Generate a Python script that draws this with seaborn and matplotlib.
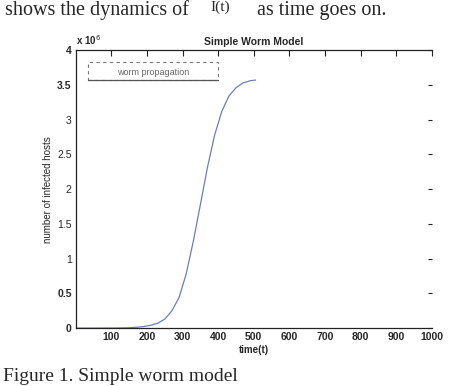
import numpy as np
import pandas as pd
import matplotlib
matplotlib.use("Agg")
import matplotlib.pyplot as plt
from matplotlib.patches import Rectangle
import seaborn as sns

# data (infected hosts, in millions)
time_t = [0, 50, 100, 130, 150, 170, 190, 210, 230, 250, 270, 290, 310,
          330, 350, 370, 390, 410, 430, 450, 470, 490, 505]
infected = [0, 0, 0.001, 0.003, 0.005, 0.012, 0.022, 0.04, 0.07, 0.13, 0.25,
            0.44, 0.78, 1.25, 1.78, 2.32, 2.78, 3.12, 3.34, 3.46, 3.53, 3.56, 3.57]
x_ticks = [100, 200, 300, 400, 500, 600, 700, 800, 900, 1000]
y_ticks = [0, 0.5, 1, 1.5, 2, 2.5, 3, 3.5, 4]
y_labels = ["0", "0.5", "1", "1.5", "2", "2.5", "3", "3.5", "4"]

df = pd.DataFrame({"t": time_t, "I": infected})

sns.set_style("white")
plt.rcParams["font.family"] = ["Liberation Sans", "DejaVu Sans"]

fig = plt.figure(figsize=(4.74, 3.86), dpi=100)
ax = fig.add_axes([0.160, 0.150, 0.751, 0.720])

sns.lineplot(data=df, x="t", y="I", ax=ax, color="#6a7fb4", linewidth=0.9)

ax.set_xlim(0, 1000)
ax.set_ylim(0, 4)
ax.set_xticks(x_ticks)
ax.set_xticklabels([str(v) for v in x_ticks], fontsize=7.5, fontweight="bold")
ax.set_yticks(y_ticks)
ax.set_yticklabels(y_labels, fontsize=7.5)
for lab in ax.get_yticklabels():
    if lab.get_text() in ("0", "0.5", "3.5", "4"):
        lab.set_fontweight("bold")
ax.tick_params(direction="in", length=4, width=0.8, color="#222222",
               top=True, right=True, pad=3)
ax.tick_params(axis="y", which="both", right=True, length=3)
for side in ["left", "bottom", "top"]:
    ax.spines[side].set_color("#222222")
    ax.spines[side].set_linewidth(0.9)
ax.spines["right"].set_visible(False)

ax.set_xlabel("time(t)", fontsize=7, fontweight="bold", labelpad=2)
ax.set_ylabel("number of infected hosts", fontsize=7, labelpad=3)
ax.set_title("Simple Worm Model", fontsize=7.5, fontweight="bold", pad=4)
ax.text(0.0, 1.012, r"x 10$^6$", transform=ax.transAxes, fontsize=7,
        fontweight="bold", ha="left", va="bottom")

# legend box (faint in the scan)
ax.add_patch(Rectangle((0.034, 0.892), 0.366, 0.065, transform=ax.transAxes,
                       fill=False, edgecolor="#777777", linewidth=0.8,
                       linestyle=(0, (3, 3))))
ax.plot([0.034, 0.40], [0.892, 0.892], transform=ax.transAxes,
        color="#555555", linewidth=0.9)
ax.text(0.217, 0.918, "worm propagation", transform=ax.transAxes,
        fontsize=6.5, color="#666666", ha="center", va="center")

# surrounding page text
fig.text(0.011, 0.961, "shows the dynamics of", family="Liberation Serif",
         fontsize=14.5, ha="left", va="baseline")
fig.text(0.443, 0.999, "I(t)", family="Liberation Serif",
         fontsize=11, ha="left", va="top")
fig.text(0.542, 0.961, "as time goes on.", family="Liberation Serif",
         fontsize=14.5, ha="left", va="baseline")
fig.text(0.006, 0.003, "Figure 1. Simple worm model", family="Liberation Serif",
         fontsize=14, ha="left", va="bottom")

fig.savefig("out.png", dpi=100)
